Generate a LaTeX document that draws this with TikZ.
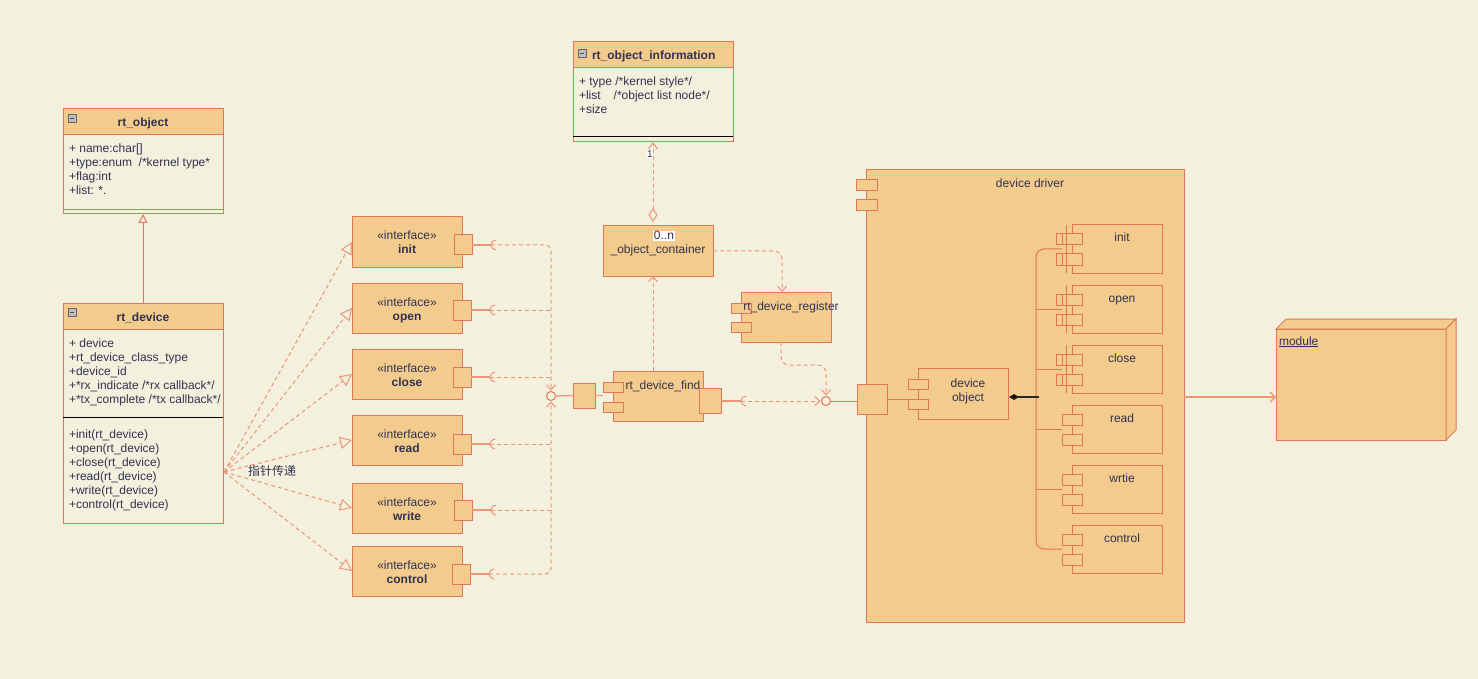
\documentclass[tikz,border=0pt]{standalone}
\usepackage{fontspec}
\setmainfont{Liberation Sans}
\newfontfamily\cjk{Noto Sans CJK SC}
\usetikzlibrary{arrows.meta,calc}
\definecolor{bgc}{RGB}{244,240,222}
\definecolor{fillc}{RGB}{242,203,141}
\definecolor{strk}{RGB}{226,118,90}
\definecolor{lstrk}{RGB}{236,150,120}
\definecolor{txtc}{RGB}{50,50,80}
\tikzset{
  every node/.style={inner sep=0pt, outer sep=0pt},
  blk/.style={draw=strk, fill=fillc, line width=1pt, rectangle},
  cls/.style={draw=strk, fill=bgc, line width=1pt, rectangle},
  hdr/.style={draw=strk, fill=fillc, line width=1pt},
  ln/.style={anchor=base west},
  ctr/.style={anchor=base},
  bfont/.style={font=\fontsize{12}{14}\selectfont\bfseries},
  dsh/.style={draw=lstrk, line width=1pt, dash pattern=on 4pt off 3pt},
  sol/.style={draw=lstrk, line width=1.3pt},
  barb/.style={-{Straight Barb[length=5pt,width=9pt]}},
  icon/.style={draw=black!60, fill=black!25, line width=0.6pt},
  ball/.style={circle, draw=strk, fill=bgc, line width=1pt, minimum size=9pt},
  tab/.style={blk, minimum width=20pt, minimum height=10pt},
}
\begin{document}
\begin{tikzpicture}[x=1pt,y=-1pt,font=\fontsize{12}{14}\selectfont,text=txtc]
\fill[bgc] (0,0) rectangle (1478,679);
\useasboundingbox (0,0) rectangle (1478,679);

% ---------- rt_object ----------
\node[cls, minimum width=160pt, minimum height=105pt] (obj) at (143,161.5) {};
\draw[hdr] (obj.north west) rectangle ($(obj.north east)+(0,26)$);
\draw[strk, line width=1pt] ($(obj.south west)+(0,-4)$) -- ($(obj.south east)+(0,-4)$);
\draw[icon] ($(obj.north west)+(5,5)$) rectangle +(8,8);
\draw[black!70, line width=0.8pt] ($(obj.north west)+(7,9)$) -- +(4,0);
\node[ctr, bfont] (objt) at (143,127) {rt\_object};
\node[ln] (oa1) at (69,153) {+ name:char[]};
\node[ln] (oa2) at (69,167) {+type:enum~~/*kernel type*};
\node[ln] (oa3) at (69,181) {+flag:int};
\node[ln] (oa4) at (69,195) {+list: *.};

% ---------- rt_device ----------
\node[cls, minimum width=160pt, minimum height=220pt] (dev) at (143,413) {};
\draw[hdr] (dev.north west) rectangle ($(dev.north east)+(0,26)$);
\draw[black, line width=1pt] ($(dev.north west)+(0,114)$) -- ($(dev.north east)+(0,114)$);
\draw[icon] ($(dev.north west)+(5,5)$) rectangle +(8,8);
\draw[black!70, line width=0.8pt] ($(dev.north west)+(7,9)$) -- +(4,0);
\node[ctr, bfont] (devt) at (143,321) {rt\_device};
\begin{scope}
\clip (64,330) rectangle (221,416);
\node[ln] (da1) at (69,347) {+ device};
\node[ln] (da2) at (69,361) {+rt\_device\_class\_type};
\node[ln] (da3) at (69,375) {+device\_id};
\node[ln] (da4) at (69,389) {+*rx\_indicate /*rx callback*/};
\node[ln] (da5) at (69,403) {+*tx\_complete /*tx callback*/};
\end{scope}
\node[ln] (dm1) at (69,438) {+init(rt\_device)};
\node[ln] (dm2) at (69,452) {+open(rt\_device)};
\node[ln] (dm3) at (69,466) {+close(rt\_device)};
\node[ln] (dm4) at (69,480) {+read(rt\_device)};
\node[ln] (dm5) at (69,494) {+write(rt\_device)};
\node[ln] (dm6) at (69,508) {+control(rt\_device)};

\draw[strk, line width=1pt, -{Triangle[open,length=9pt,width=9pt]}] (dev.north) -- (obj.south);

% ---------- interfaces ----------
\coordinate (fan) at (224,472);
\foreach \n/\c/\px/\py/\sx in {init/242/463/245/491, open/308/462/310/490, close/374/462/377/490, read/440/462/444/490, write/508/463/510/491, control/571/461/574/489}{
  \node[blk, minimum width=110pt, minimum height=50pt] (if-\n) at (407,\c) {};
  \node[ctr] (ifs-\n) at (407,\c-2) {«interface»};
  \node[ctr, bfont] (ifn-\n) at (407,\c+12) {\n};
  \node[blk, minimum width=18pt, minimum height=20pt] (pt-\n) at (\px,\py) {};
  \coordinate (sk-\n) at (\sx,\py);
  \draw[sol] (pt-\n.east) -- (sk-\n);
  \draw[lstrk, line width=1pt] ([shift={(5,5)}]sk-\n) arc[start angle=90,end angle=270,radius=5];
  \draw[dsh, -{Triangle[open,length=12pt,width=12pt]}] (fan) -- (if-\n.west);
}
\node[font=\cjk\fontsize{12}{14}\selectfont] (lbl) at (272,471) {指针传递};

% ---------- ball / find ----------
\node[ball] (ball1) at (551,396) {};
\draw[dsh, rounded corners=6, barb, shorten >=1pt] (sk-init) -- (551,245) -- (ball1.north);
\draw[dsh] (sk-open) -- (sk-open -| ball1);
\draw[dsh] (sk-close) -- (sk-close -| ball1);
\draw[dsh] (sk-read) -- (sk-read -| ball1);
\draw[dsh] (sk-write) -- (sk-write -| ball1);
\draw[dsh, rounded corners=6, barb, shorten >=1pt] (sk-control) -- (551,574) -- (ball1.south);

\node[blk, minimum width=22pt, minimum height=25pt] (lp) at (584,395.5) {};
\draw[sol] (ball1.east) -- (lp.west);
\node[blk, minimum width=90pt, minimum height=50pt] (fnd) at (658,396) {};
\node[tab] (ft1) at (613,387) {};
\node[tab] (ft2) at (613,407) {};
\draw[sol] (lp.east) -- (lp.east -| ft1.west);
\node[ctr] (fndt) at (663,389) {rt\_device\_find};
\node[blk, minimum width=22pt, minimum height=25pt] (rp) at (710,401) {};
\coordinate (sk-f) at (741,401);
\draw[sol] (rp.east) -- (sk-f);
\draw[lstrk, line width=1pt] ([shift={(5,5)}]sk-f) arc[start angle=90,end angle=270,radius=5];
\node[ball] (ball2) at (826,401) {};
\draw[dsh, barb, shorten >=1pt] (sk-f) -- (ball2.west);

% ---------- object information / container / register ----------
\node[cls, minimum width=160pt, minimum height=100pt] (roi) at (653,92) {};
\draw[hdr] (roi.north west) rectangle ($(roi.north east)+(0,26)$);
\draw[black, line width=1pt] ($(roi.south west)+(0,-5)$) -- ($(roi.south east)+(0,-5)$);
\draw[icon] ($(roi.north west)+(5,7)$) rectangle +(8,8);
\draw[black!70, line width=0.8pt] ($(roi.north west)+(7,11)$) -- +(4,0);
\node[ln, bfont] (roit) at (592,60) {rt\_object\_information};
\node[ln] (ra1) at (579,86) {+ type /*kernel style*/};
\node[ln] (ra2) at (579,100) {+list\hspace{13pt}/*object list node*/};
\node[ln] (ra3) at (579,114) {+size};

\node[blk, minimum width=110pt, minimum height=50pt] (oc) at (658,251) {};
\node[ctr, fill=white, inner sep=1pt] (ocn) at (664,240) {0..n};
\node[ctr] (oct) at (658,254) {\_object\_container};
\draw[dsh, {Diamond[open,length=14pt,width=9pt]}-{Straight Barb[length=6pt,width=9pt]}, shorten <=4pt] (oc.north -| roi.south) -- (roi.south);
\node[fill=white, inner sep=0.5pt, font=\fontsize{10}{12}\selectfont] (one) at (650,154) {1};
\draw[dsh, barb] (fnd.north -| roi.south) -- (oc.south -| roi.south);

\node[blk, minimum width=90pt, minimum height=50pt] (reg) at (786,317) {};
\node[tab] (rt1) at (741,308) {};
\node[tab] (rt2) at (741,327) {};
\node[ctr] (regt) at (791,310) {rt\_device\_register};
\draw[dsh, rounded corners=8, barb] (oc.east) -| ($(reg.north)+(-4,0)$);
\draw[dsh, rounded corners=8, barb, shorten >=1pt] ($(reg.south)+(-5,0)$) -- ++(0,23) -| (ball2.north);

% ---------- device driver ----------
\node[blk, minimum width=318pt, minimum height=452pt] (dd) at (1025,396) {};
\node[blk, minimum width=21pt, minimum height=11pt] (ddt1) at (866.5,185.5) {};
\node[blk, minimum width=21pt, minimum height=11pt] (ddt2) at (866.5,205.5) {};
\node[ctr] (ddl) at (1030,188) {device driver};
\node[blk, minimum width=30pt, minimum height=30pt] (ddp) at (872,399) {};
\draw[strk, line width=1pt] (ball2.east) -- (ball2.east -| ddp.west);

\node[blk, minimum width=90pt, minimum height=51pt] (dobj) at (963,393.5) {};
\node[tab] (dot1) at (918,384) {};
\node[tab] (dot2) at (918,404) {};
\node[ctr] (dobt1) at (968,387) {device};
\node[ctr] (dobt2) at (968,401) {object};
\draw[strk, line width=1pt] (ddp.east) -- (ddp.east -| dot1.west);

\coordinate (bus) at (1036,0);
\foreach \n/\c in {init/249, open/309, close/369, read/429, wrtie/489, control/549}{
  \node[blk, minimum width=90pt, minimum height=48pt] (c-\n) at (1117,\c) {};
  \node[tab, minimum height=11pt] (ct1-\n) at (1072,\c-9.5) {};
  \node[tab, minimum height=11pt] (ct2-\n) at (1072,\c+10.5) {};
  \node[ctr] (cl-\n) at (1122,\c-7) {\n};
}
\foreach \n in {init,open,close}{
  \draw[strk, line width=1pt] ($(c-\n.north west)+(-6,0)$) -- ($(c-\n.south west)+(-6,0)$);
  \draw[strk, line width=1pt, fill=fillc] ($(ct1-\n.north west)+(-6,0)$) rectangle (ct1-\n.south west);
  \draw[strk, line width=1pt, fill=fillc] ($(ct2-\n.north west)+(-6,0)$) rectangle (ct2-\n.south west);
}
\draw[strk, line width=1pt, rounded corners=8] ($(c-init.west)+(-10,0)$) -- (c-init.west -| bus) -- (c-control.west -| bus) -- ($(c-control.west)+(-10,0)$);
\foreach \n in {open,close,read,wrtie}{
  \draw[strk, line width=1pt] (c-\n.west -| bus) -- ($(c-\n.west)+(-10,0)$);
}
\coordinate (cmp) at (1039,397);
\draw[black!85, line width=1.2pt, -{Diamond[length=10pt,width=6pt,fill=black]}, shorten >=1pt] (cmp) -- (cmp -| dobj.east);

% ---------- module ----------
\node[blk, minimum width=170pt, minimum height=111pt] (mod) at (1361,384.5) {};
\draw[blk] (mod.north west) -- ++(10,-10) -- ++(170,0) -- (mod.north east) -- cycle;
\draw[blk] (mod.north east) -- ++(10,-10) -- ++(0,111) -- (mod.south east) -- cycle;
\node[ln] (modl) at (1279,345) {\underline{module}};
\draw[lstrk, line width=1.3pt, -{Straight Barb[length=5pt,width=10pt]}] (cmp -| dd.east) -- (cmp -| mod.west);
\end{tikzpicture}
\end{document}
